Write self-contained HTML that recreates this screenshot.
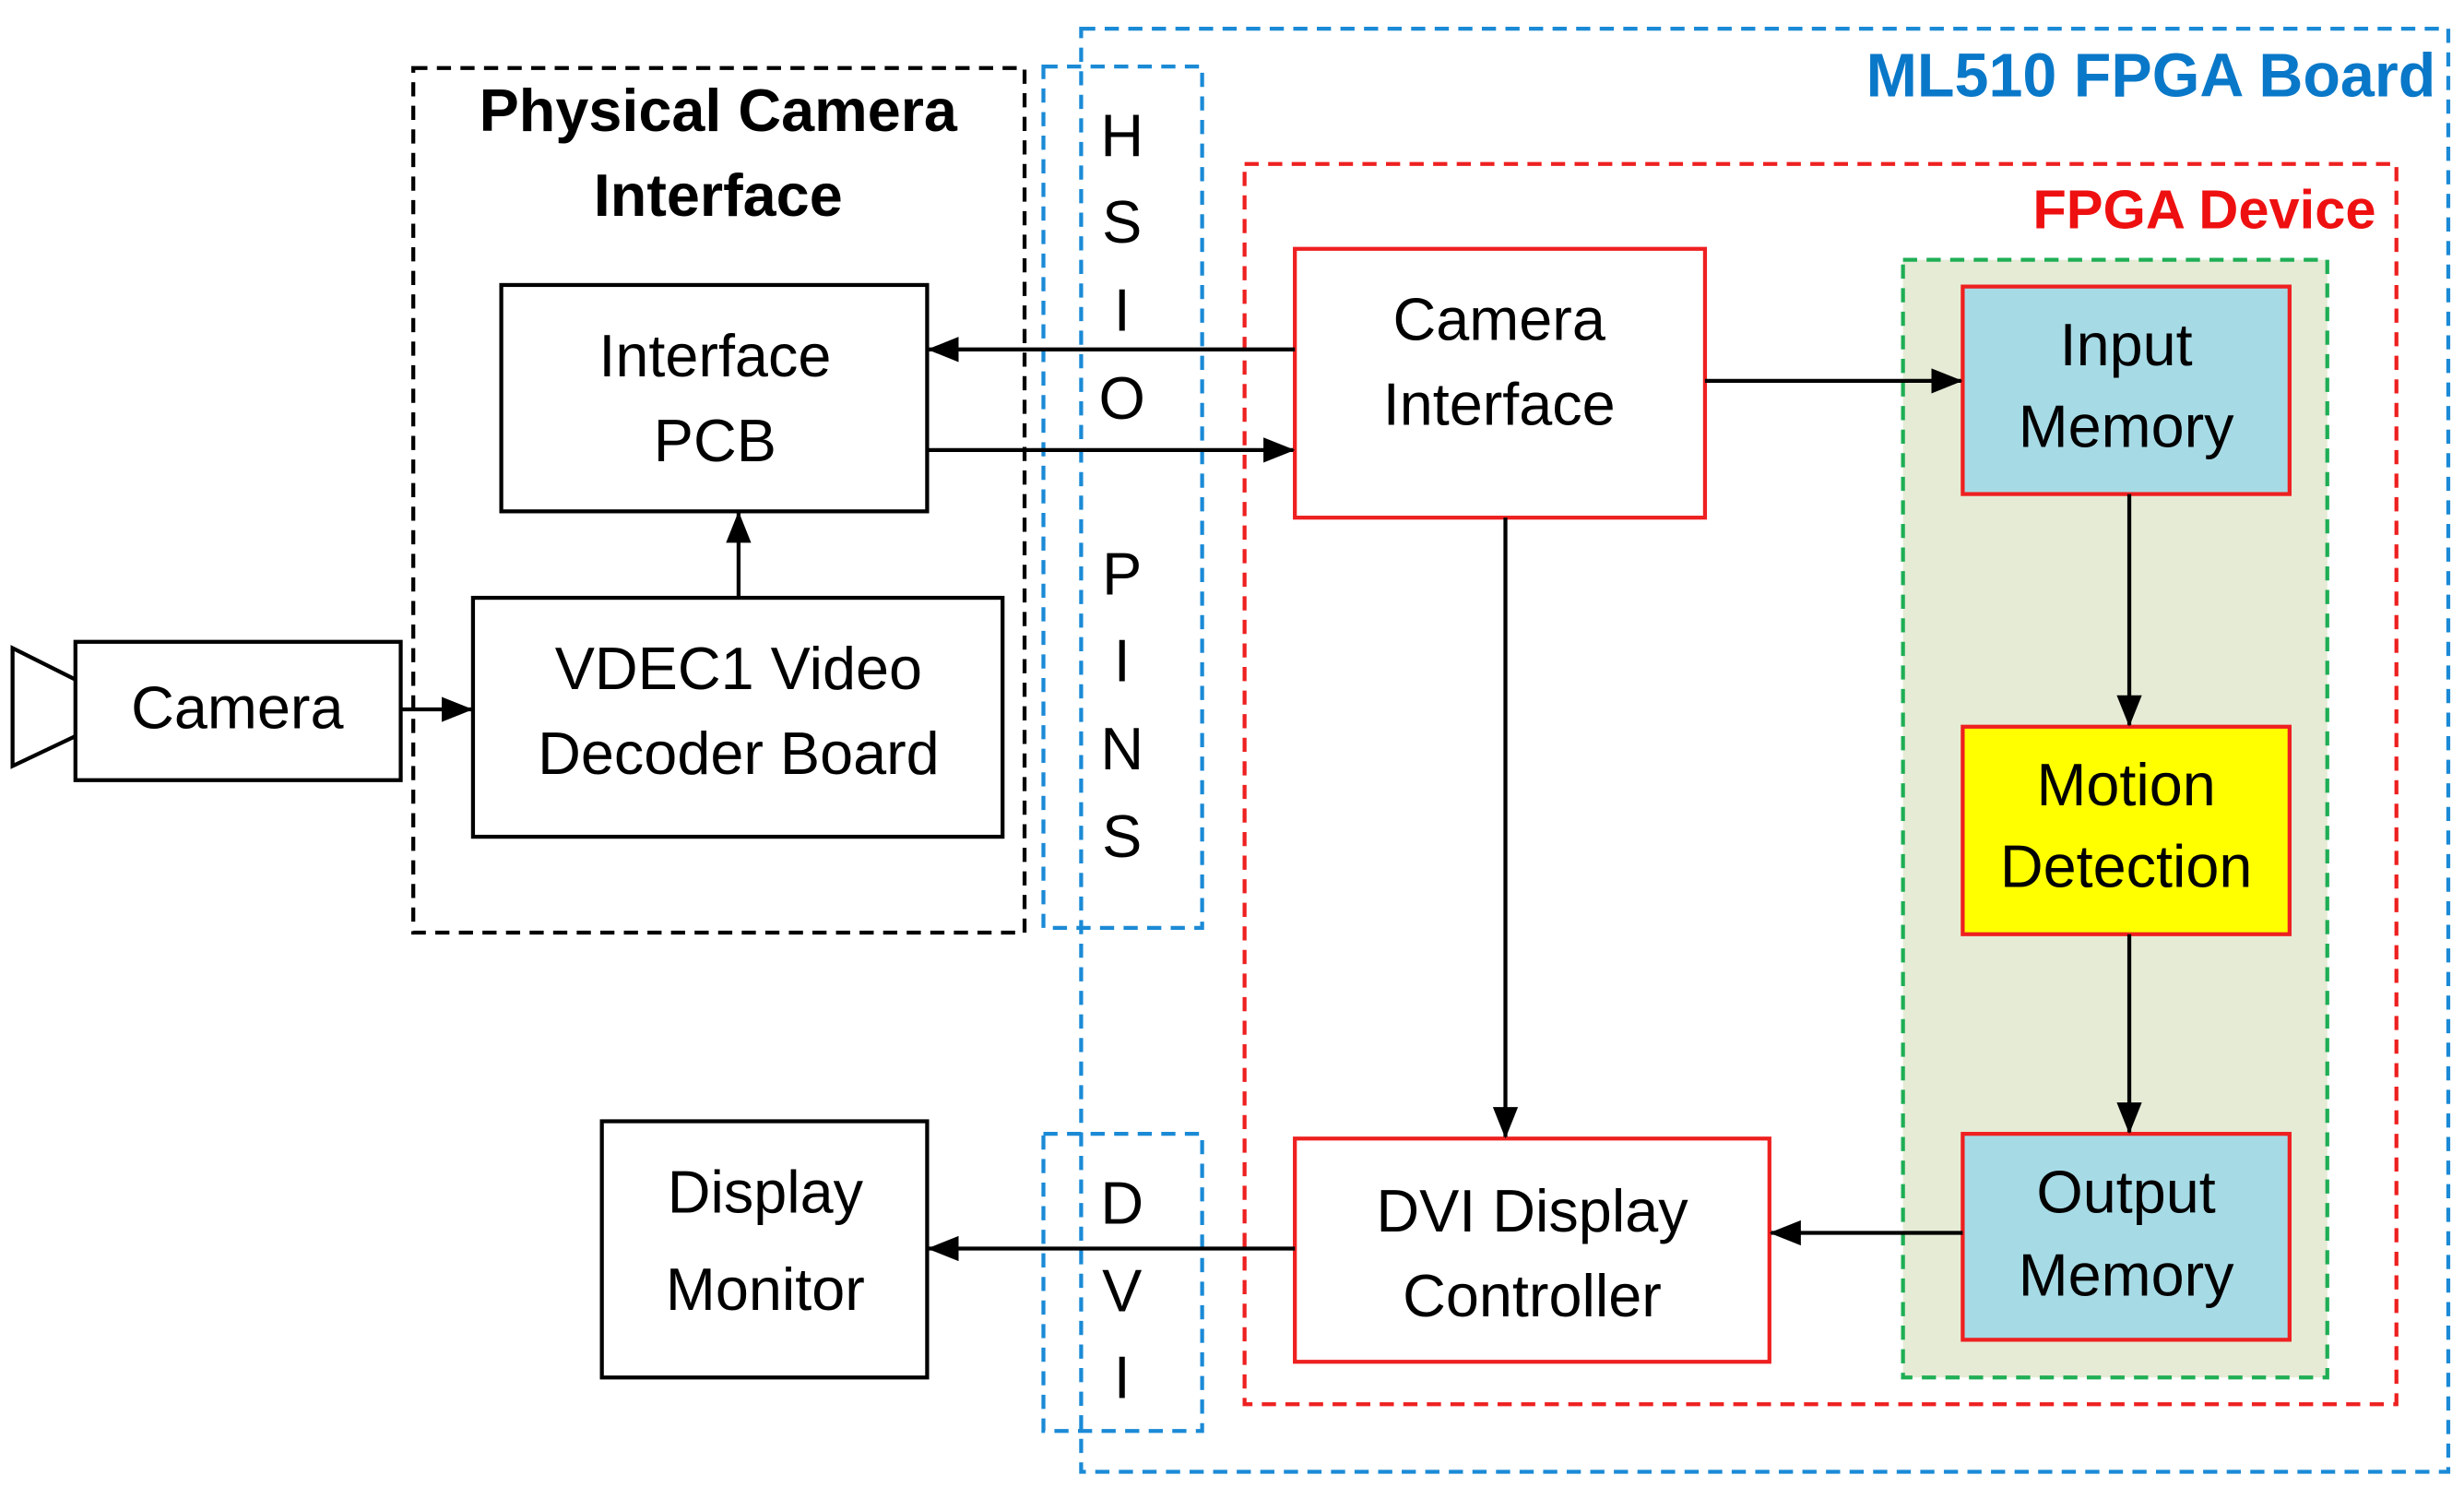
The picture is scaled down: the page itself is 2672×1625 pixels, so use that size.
<!DOCTYPE html>
<html><head><meta charset="utf-8"><style>
html,body{margin:0;padding:0;background:#fff}
svg{display:block}
text{font-family:"Liberation Sans",sans-serif;font-size:38px;text-anchor:middle;fill:#000}
.b{font-weight:bold}
</style></head><body>
<svg width="2672" height="1625" viewBox="0 0 1568 953" xmlns="http://www.w3.org/2000/svg">
<defs>
<marker id="A" markerWidth="20" markerHeight="20" refX="19" refY="10" orient="auto" markerUnits="userSpaceOnUse" viewBox="0 0 20 20">
<path d="M0,2 L20,10 L0,18 z" fill="#000"/></marker>
</defs>
<rect width="1568" height="953" fill="#fff"/>
<rect x="688" y="18" width="870" height="918" fill="none" stroke="#1b8ad6" stroke-width="2.5" stroke-dasharray="9,6"/>
<text x="1550" y="61" class="b" style="fill:#0a78c8;text-anchor:end;font-size:39px">ML510 FPGA Board</text>
<rect x="263" y="43" width="389" height="550" fill="none" stroke="#000" stroke-width="2.5" stroke-dasharray="9,6"/>
<text x="457" y="83" class="b">Physical Camera</text>
<text x="457" y="137" class="b">Interface</text>
<rect x="664" y="42" width="101" height="548" fill="none" stroke="#1b8ad6" stroke-width="2.5" stroke-dasharray="9,6"/>
<rect x="664" y="721" width="101" height="189" fill="none" stroke="#1b8ad6" stroke-width="2.5" stroke-dasharray="9,6"/>
<g style="font-size:34px">
<text x="714" y="99">H</text><text x="714" y="154">S</text><text x="714" y="210">I</text><text x="714" y="266">O</text>
<text x="714" y="378">P</text><text x="714" y="433">I</text><text x="714" y="489">N</text><text x="714" y="545">S</text>
<text x="714" y="778">D</text><text x="714" y="834">V</text><text x="714" y="889">I</text>
</g>
<rect x="792" y="104" width="733" height="789" fill="none" stroke="#ee2020" stroke-width="2.5" stroke-dasharray="9,6"/>
<text x="1512" y="145" class="b" style="fill:#ee1010;text-anchor:end;font-size:35px">FPGA Device</text>
<rect x="1211" y="165" width="270" height="711" fill="#e5ebd5" stroke="#1fae55" stroke-width="2.5" stroke-dasharray="9,6"/>
<g stroke-width="2.5">
<rect x="319" y="181" width="271" height="144" fill="#fff" stroke="#000"/>
<rect x="301" y="380" width="337" height="152" fill="#fff" stroke="#000"/>
<rect x="48" y="408" width="207" height="88" fill="#fff" stroke="#000"/>
<polyline points="48,432 8,412 8,487 48,468" fill="none" stroke="#000"/>
<rect x="383" y="713" width="207" height="163" fill="#fff" stroke="#000"/>
<rect x="824" y="158" width="261" height="171" fill="#fff" stroke="#ee2020"/>
<rect x="824" y="724" width="302" height="142" fill="#fff" stroke="#ee2020"/>
<rect x="1249" y="182" width="208" height="132" fill="#a6dbe6" stroke="#ee2020"/>
<rect x="1249" y="462" width="208" height="132" fill="#ffff00" stroke="#ee2020"/>
<rect x="1249" y="721" width="208" height="131" fill="#a6dbe6" stroke="#ee2020"/>
</g>
<text x="455" y="239">Interface</text><text x="455" y="293">PCB</text>
<text x="470" y="438">VDEC1 Video</text><text x="470" y="492">Decoder Board</text>
<text x="151" y="463">Camera</text>
<text x="487" y="771">Display</text><text x="487" y="833">Monitor</text>
<text x="954" y="216">Camera</text><text x="954" y="270">Interface</text>
<text x="975" y="783">DVI Display</text><text x="975" y="837">Controller</text>
<g style="font-size:34px">
<text x="1353" y="232">Input</text><text x="1353" y="284">Memory</text>
<text x="1353" y="512">Motion</text><text x="1353" y="564">Detection</text>
<text x="1353" y="771">Output</text><text x="1353" y="824">Memory</text>
</g>
<g stroke="#000" stroke-width="2.5" fill="none" marker-end="url(#A)">
<line x1="824" y1="222" x2="591" y2="222"/>
<line x1="590" y1="286" x2="823" y2="286"/>
<line x1="470" y1="380" x2="470" y2="326"/>
<line x1="255" y1="451" x2="300" y2="451"/>
<line x1="1085" y1="242" x2="1248" y2="242"/>
<line x1="958" y1="329" x2="958" y2="723"/>
<line x1="1355" y1="314" x2="1355" y2="461"/>
<line x1="1355" y1="594" x2="1355" y2="720"/>
<line x1="1249" y1="784" x2="1127" y2="784"/>
<line x1="824" y1="794" x2="591" y2="794"/>
</g>
</svg>
</body></html>
